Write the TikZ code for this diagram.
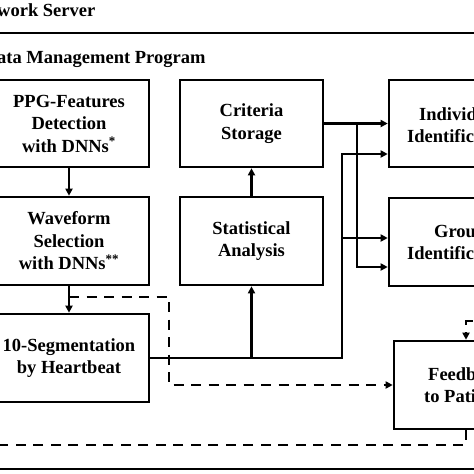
\documentclass[tikz,border=0pt]{standalone}
\usepackage{fontspec}
\setmainfont{Liberation Serif}
\usetikzlibrary{arrows.meta,calc}
\begin{document}
\begin{tikzpicture}[x=1pt,y=-1pt,
  txt/.style={font=\bfseries\fontsize{18.5}{22.5}\selectfont},
  box/.style={draw,line width=2.6pt,inner sep=0pt,align=center,txt},
  lbl/.style={anchor=base west,inner sep=0pt,txt},
  conn/.style={line width=2.6pt},
  arr/.style={conn,-{Triangle[length=7pt,width=7pt]}},
  dsh/.style={line width=2.3pt,dash pattern=on 10pt off 7.5pt},
  darr/.style={dsh,-{Triangle[length=7pt,width=7pt]}}]
\useasboundingbox (0,0) rectangle (474,474);
\clip (0,0) rectangle (474,474);
% frame of the data management program
\draw[line width=2.4pt] (-20,33) rectangle (500,469);
\node[lbl] (ns) at (-3,16) {work Server};
\node[lbl] (dmp) at (-3,63) {ata Management Program};
% boxes
\node[box,minimum width=160pt,minimum height=87pt] (A) at (69,123.5) {PPG-Features\\Detection\\with DNNs\textsuperscript{*}};
\node[box,minimum width=160pt,minimum height=88pt] (B) at (69,241) {Waveform\\Selection\\with DNNs\textsuperscript{**}};
\node[box,minimum width=160pt,minimum height=88pt] (C) at (69,358) {10-Segmentation\\by Heartbeat};
\node[box,minimum width=143pt,minimum height=87pt] (D) at (251.5,123.5) {Criteria\\Storage};
\node[box,minimum width=143pt,minimum height=88pt] (E) at (251.5,241) {Statistical\\Analysis};
\node[box,minimum width=142pt,minimum height=87pt] (F) at (460,123.5) {};
\node[box,minimum width=142pt,minimum height=88pt] (G) at (460,242) {};
\node[box,minimum width=144pt,minimum height=88pt] (H) at (466,385) {};
\node[lbl] (Ft1) at (419,120) {Individ};
\node[lbl] (Ft2) at (407,142) {Identific};
\node[lbl] (Gt1) at (434,237) {Grou};
\node[lbl] (Gt2) at (407,259) {Identific};
\node[lbl] (Ht1) at (428,380) {Feedb};
\node[lbl] (Ht2) at (424,402) {to Pati};
% solid connectors
\draw[arr] (A) -- (B);
\draw[arr] (B) -- (C);
\draw[arr] (E) -- (D);
\draw[arr] (D.east) -- (D.east -| F.west);
\coordinate (j1) at (357,123.5);
\draw[arr] (j1) |- ($(G.west)+(0,25)$);
\coordinate (j2) at (342,358);
\draw[arr] (C.east) -- (j2) |- ($(F.west)+(0,30.5)$);
\coordinate (j3) at (342,238);
\draw[arr] (j3) -- (j3 -| G.west);
\draw[arr] (E.south |- C.east) -- (E.south);
% dashed connectors
\coordinate (d1) at (69,297);
\coordinate (d2) at (169,297);
\draw[darr] (d1) -- (d2) |- (H.west);
\coordinate (dL) at (-10,445);
\draw[dsh] (H.south) |- (dL);
\coordinate (dR) at (490,321);
\draw[darr] (dR) -| (H.north);
\end{tikzpicture}
\end{document}
